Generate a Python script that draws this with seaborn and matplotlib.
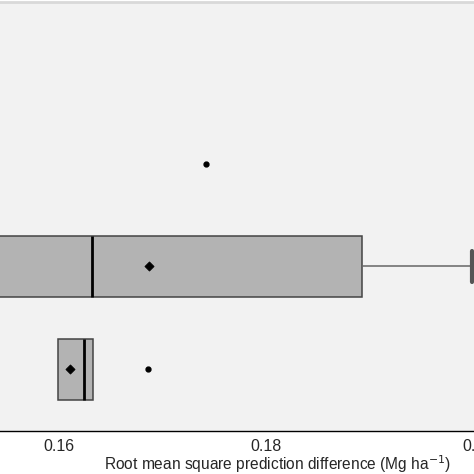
import numpy as np
import pandas as pd
import matplotlib
matplotlib.use('Agg')
import matplotlib.pyplot as plt
import seaborn as sns

# groups top to bottom
groups = ['A', 'B', 'C']
vals_a = [0.140, 0.141, 0.142, 0.142, 0.143, 0.143, 0.144, 0.145, 0.1742]
vals_b = [0.140, 0.150, 0.1632, 0.1893, 0.1999]
vals_c = [0.1599, 0.1599, 0.1599, 0.1599, 0.1624, 0.1633, 0.1633, 0.1633, 0.1686]
means = [0.143, 0.1687, 0.1611]
xticks = [0.16, 0.18, 0.20]
xticklabels = ['0.16', '0.18', '0.2']

df = pd.DataFrame({
    'rmspd': vals_a + vals_b + vals_c,
    'grp': ['A'] * len(vals_a) + ['B'] * len(vals_b) + ['C'] * len(vals_c),
})
df_mean = pd.DataFrame({'rmspd': means, 'grp': groups})

sns.set_style('white')
plt.rcParams['font.family'] = ['Liberation Sans', 'DejaVu Sans']

fig = plt.figure(figsize=(4.74, 4.74), dpi=100)
fig.patch.set_facecolor('white')
ax = fig.add_axes([0.0, 43 / 474, 1.0, 429 / 474])
ax.set_facecolor('#f2f2f2')

sns.boxplot(data=df, x='rmspd', y='grp', order=groups, orient='h', ax=ax,
            color='#b3b3b3', width=0.59, whis=1.5, saturation=1,
            linecolor='#444444', linewidth=1.1,
            boxprops=dict(facecolor='#b3b3b3', edgecolor='#444444'),
            medianprops=dict(color='black', linewidth=2),
            whiskerprops=dict(color='#666666', linewidth=1.1),
            capprops=dict(color='#555555', linewidth=3),
            flierprops=dict(marker='o', markerfacecolor='black',
                            markeredgecolor='black', markersize=3.5))
sns.scatterplot(data=df_mean, x='rmspd', y='grp', marker='D', color='black',
                s=22, edgecolor='black', linewidth=0.5, ax=ax, zorder=5)

# caps that sit on the box edges are not shown in the original
for ln in ax.lines:
    xd, yd = np.asarray(ln.get_xdata()), np.asarray(ln.get_ydata())
    if ln.get_linewidth() >= 3 and len(xd) == 2 and xd[0] == xd[1] and abs(yd.mean() - 2) < 0.1:
        ln.set_visible(False)

ax.set_xlim(0.1543, 0.2001)
ax.set_ylim(2.60, -1.57)
ax.set_xticks(xticks)
ax.set_xticklabels(xticklabels, fontsize=11.5)
ax.set_yticks([])
ax.set_ylabel('')
ax.set_xlabel('Root mean square prediction difference (Mg ha$^{-1}$)', fontsize=11.2)
ax.xaxis.set_label_coords(0.585, -0.053)
ax.tick_params(axis='x', direction='out', length=5, width=1, color='black', pad=1)
ax.spines['left'].set_visible(False)
ax.spines['right'].set_visible(False)
ax.spines['top'].set_color('#d9d9d9')
ax.spines['top'].set_linewidth(2)
ax.spines['bottom'].set_color('black')
ax.spines['bottom'].set_linewidth(1)

fig.savefig('out.png', dpi=100)
